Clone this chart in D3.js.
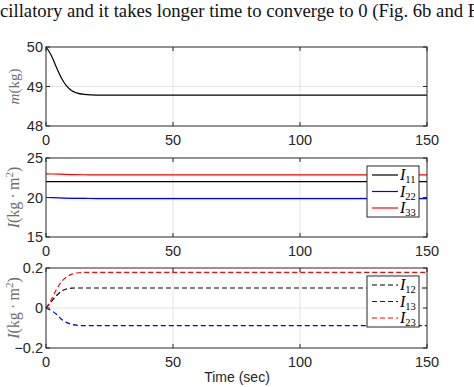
<!DOCTYPE html>
<html>
<head>
<meta charset="utf-8">
<script src="https://cdn.jsdelivr.net/npm/d3@7"></script>
<style>
  body { margin: 0; background: #fff; overflow: hidden; }
  svg { display: block; }
</style>
</head>
<body>
<script>
// mass panel
var timeM = [0, 2, 4, 6, 8, 10, 12, 15, 20, 30, 150];
var massM = [50, 49.8, 49.5, 49.22, 49.02, 48.9, 48.84, 48.8, 48.78, 48.78, 48.78];

// diagonal inertia panel
var timeD = [0, 5, 10, 15, 20, 150];
var I11 = [22, 22, 22, 22, 22, 22];
var I22 = [20.0, 19.95, 19.9, 19.88, 19.87, 19.87];
var I33 = [23.0, 22.95, 22.9, 22.88, 22.87, 22.87];

// off-diagonal inertia panel
var timeP = [0, 2, 4, 6, 8, 10, 12, 15, 20, 150];
var I12 = [0, 0.03, 0.06, 0.083, 0.095, 0.099, 0.1, 0.1, 0.1, 0.1];
var I13 = [0, -0.012, -0.03, -0.055, -0.072, -0.081, -0.086, -0.088, -0.088, -0.088];
var I23 = [0, 0.04, 0.09, 0.13, 0.155, 0.168, 0.175, 0.178, 0.178, 0.178];

var xTicks = [0, 50, 100, 150];

var w = 474, h = 387;
var left = 46, right = 427;

var svg = d3.select("body").append("svg")
  .attr("width", w).attr("height", h);

svg.append("text")
  .attr("x", 0).attr("y", 17)
  .attr("font-family", "Liberation Serif, Times New Roman, serif")
  .attr("font-size", 18.7)
  .attr("fill", "#111")
  .text("cillatory and it takes longer time to converge to 0 (Fig. 6b and F");

var x = d3.scaleLinear().domain([0, 150]).range([left, right]);

var panels = [
  { top: 47, bottom: 126, domain: [48, 50], ticks: [48, 49, 50], fmt: d3.format("d"),
    label: "m",
    series: [{ t: timeM, v: massM, color: "#000", dash: null }] },
  { top: 158, bottom: 237, domain: [15, 25], ticks: [15, 20, 25], fmt: d3.format("d"),
    label: "I", legend: true,
    series: [
      { t: timeD, v: I11, color: "#000", dash: null, sub: "11" },
      { t: timeD, v: I22, color: "#0000ff", dash: null, sub: "22" },
      { t: timeD, v: I33, color: "#ff0000", dash: null, sub: "33" }] },
  { top: 268, bottom: 348, domain: [-0.2, 0.2], ticks: [-0.2, 0, 0.2],
    fmt: function(d){ return d === 0 ? "0" : d3.format(".1f")(d); },
    label: "I", legend: true, xLabel: true,
    series: [
      { t: timeP, v: I12, color: "#000", dash: "5,3", sub: "12" },
      { t: timeP, v: I13, color: "#0000ff", dash: "5,3", sub: "13" },
      { t: timeP, v: I23, color: "#ff0000", dash: "5,3", sub: "23" }] }
];

var axisColor = "#262626";
var sans = "Liberation Sans, Arial, sans-serif";
var serif = "Liberation Serif, Times New Roman, serif";

panels.forEach(function(p) {
  var y = d3.scaleLinear().domain(p.domain).range([p.bottom, p.top]);
  var g = svg.append("g");

  // grid
  g.selectAll(".gx").data(xTicks.slice(1, -1)).enter().append("line")
    .attr("x1", function(d){ return x(d); }).attr("x2", function(d){ return x(d); })
    .attr("y1", p.top).attr("y2", p.bottom)
    .attr("stroke", "#e3e3e3").attr("stroke-width", 1);
  g.selectAll(".gy").data(p.ticks.slice(1, -1)).enter().append("line")
    .attr("x1", left).attr("x2", right)
    .attr("y1", function(d){ return y(d); }).attr("y2", function(d){ return y(d); })
    .attr("stroke", "#e3e3e3").attr("stroke-width", 1);

  // lines
  var line = d3.line()
    .x(function(d){ return x(d[0]); })
    .y(function(d){ return y(d[1]); })
    .curve(d3.curveMonotoneX);
  p.series.forEach(function(s) {
    g.append("path")
      .datum(s.t.map(function(t, i){ return [t, s.v[i]]; }))
      .attr("d", line)
      .attr("fill", "none")
      .attr("stroke", s.color)
      .attr("stroke-width", 1.2)
      .attr("stroke-dasharray", s.dash);
  });

  // box
  g.append("rect")
    .attr("x", left).attr("y", p.top)
    .attr("width", right - left).attr("height", p.bottom - p.top)
    .attr("fill", "none").attr("stroke", axisColor).attr("stroke-width", 1);

  // ticks (inward, both sides)
  var tk = 4;
  xTicks.forEach(function(d) {
    g.append("line").attr("x1", x(d)).attr("x2", x(d))
      .attr("y1", p.bottom).attr("y2", p.bottom - tk).attr("stroke", axisColor);
    g.append("line").attr("x1", x(d)).attr("x2", x(d))
      .attr("y1", p.top).attr("y2", p.top + tk).attr("stroke", axisColor);
  });
  p.ticks.forEach(function(d) {
    g.append("line").attr("x1", left).attr("x2", left + tk)
      .attr("y1", y(d)).attr("y2", y(d)).attr("stroke", axisColor);
    g.append("line").attr("x1", right).attr("x2", right - tk)
      .attr("y1", y(d)).attr("y2", y(d)).attr("stroke", axisColor);
  });

  // tick labels
  g.selectAll(".xl").data(xTicks).enter().append("text")
    .attr("x", function(d){ return x(d); })
    .attr("y", p.bottom + 19)
    .attr("text-anchor", "middle")
    .attr("font-family", sans).attr("font-size", 14.5).attr("fill", "#262626")
    .text(function(d){ return d; });
  g.selectAll(".yl").data(p.ticks).enter().append("text")
    .attr("x", left - 3)
    .attr("y", function(d){ return y(d) + 5; })
    .attr("text-anchor", "end")
    .attr("font-family", sans).attr("font-size", 14.5).attr("fill", "#262626")
    .text(function(d){ return p.fmt(d); });

  // y label
  var cy = (p.top + p.bottom) / 2;
  var yl = g.append("text")
    .attr("transform", "translate(19," + cy + ") rotate(-90)")
    .attr("text-anchor", "middle")
    .attr("font-family", serif).attr("font-size", p.label === "m" ? 15 : 16)
    .attr("fill", "#6e6e6e");
  yl.append("tspan").attr("font-style", "italic").text(p.label);
  if (p.label === "m") {
    yl.append("tspan").text("(kg)");
  } else {
    yl.append("tspan").text("(kg\u2009·\u2009m");
    yl.append("tspan").attr("font-size", 11).attr("dy", -6).text("2");
    yl.append("tspan").attr("dy", 6).text(")");
  }

  // legend
  if (p.legend) {
    var lx = 367, ly = p.top + 8, lw = 52, lh = 51;
    var lg = g.append("g");
    lg.append("rect").attr("x", lx).attr("y", ly).attr("width", lw).attr("height", lh)
      .attr("fill", "#fff").attr("stroke", axisColor).attr("stroke-width", 1);
    p.series.forEach(function(s, i) {
      var ey = ly + 9 + i * 16.5;
      lg.append("line").attr("x1", lx + 5).attr("x2", lx + 31)
        .attr("y1", ey).attr("y2", ey)
        .attr("stroke", s.color).attr("stroke-width", 1.2)
        .attr("stroke-dasharray", s.dash);
      var t = lg.append("text").attr("x", lx + 33).attr("y", ey + 5)
        .attr("font-family", serif).attr("font-size", 16).attr("fill", "#000");
      t.append("tspan").attr("font-style", "italic").text("I");
      t.append("tspan").attr("font-size", 10.5).attr("dy", 3).text(s.sub);
    });
  }

  if (p.xLabel) {
    g.append("text")
      .attr("x", 237).attr("y", 382)
      .attr("text-anchor", "middle")
      .attr("font-family", sans).attr("font-size", 14).attr("fill", "#262626")
      .text("Time (sec)");
  }
});
</script>
</body>
</html>
